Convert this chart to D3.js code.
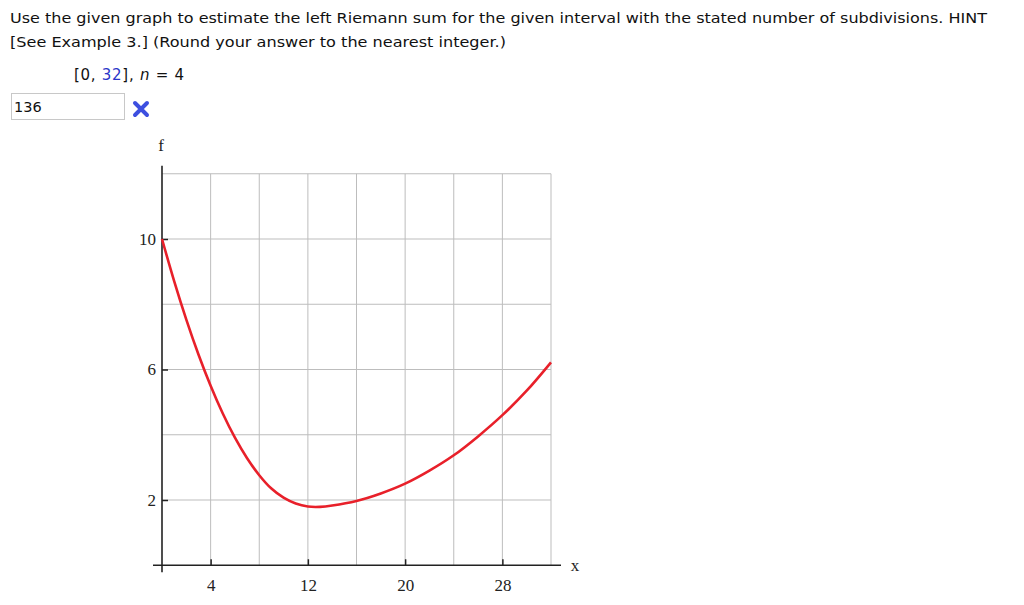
<!DOCTYPE html>
<html><head><meta charset="utf-8">
<script src="https://cdn.jsdelivr.net/npm/d3@7"></script>
<style>
body{margin:0;background:#fff;}
svg{display:block;}
</style></head>
<body>
<svg id="c" width="1024" height="605"></svg>
<script>
// Data
const xs = [0, 1, 2, 3, 4, 5, 6, 7, 8, 9, 10, 11, 12, 13, 14, 16, 18, 20, 22, 24, 26, 28, 30, 32];
const fs = [10, 8.71, 7.53, 6.46, 5.5, 4.65, 3.91, 3.28, 2.76, 2.35, 2.07, 1.89, 1.8, 1.79, 1.83, 1.97, 2.2, 2.5, 2.9, 3.37, 3.95, 4.6, 5.35, 6.22];
const xTickLabels = [4, 12, 20, 28];
const yTickLabels = [2, 6, 10];
const xGrid = [4, 8, 12, 16, 20, 24, 28, 32];
const yGrid = [2, 4, 6, 8, 10, 12];
const promptLines = [
  "Use the given graph to estimate the left Riemann sum for the given interval with the stated number of subdivisions. HINT",
  "[See Example 3.] (Round your answer to the nearest integer.)"
];
const answer = "136";

const svg = d3.select("#c");
const sans = "'DejaVu Sans', Verdana, sans-serif";
const serif = "'Liberation Serif', 'Times New Roman', serif";

// Prompt text
svg.append("text").attr("x", 10).attr("y", 23).attr("font-family", sans).attr("font-size", 14.6)
  .attr("fill", "#111").attr("textLength", 977).attr("lengthAdjust", "spacingAndGlyphs").text(promptLines[0]);
svg.append("text").attr("x", 10).attr("y", 47).attr("font-family", sans).attr("font-size", 14.6)
  .attr("fill", "#111").attr("textLength", 496).attr("lengthAdjust", "spacingAndGlyphs").text(promptLines[1]);

const t3 = svg.append("text").attr("x", 74).attr("y", 80).attr("font-family", sans).attr("font-size", 15)
  .attr("fill", "#111").attr("textLength", 110).attr("lengthAdjust", "spacing");
t3.append("tspan").text("[0, ");
t3.append("tspan").attr("fill", "#2a35c8").text("32");
t3.append("tspan").text("], ");
t3.append("tspan").attr("font-style", "italic").text("n");
t3.append("tspan").text(" = 4");

// Answer box
svg.append("rect").attr("x", 11.5).attr("y", 93.5).attr("width", 113).attr("height", 26)
  .attr("fill", "#fff").attr("stroke", "#c8c8c8");
svg.append("text").attr("x", 14).attr("y", 112).attr("font-family", sans).attr("font-size", 14.5)
  .attr("fill", "#111").text(answer);
// Blue X mark
const xm = svg.append("g").attr("transform", "translate(141,109)");
xm.append("path").attr("d", "M-6,-6L6,6M6,-6L-6,6").attr("stroke", "#3d4fe0").attr("stroke-width", 4).attr("stroke-linecap", "round");

// Chart
const x = d3.scaleLinear().domain([0, 32]).range([162, 551]);
const y = d3.scaleLinear().domain([0, 12]).range([565.25, 173.75]);

const g = svg.append("g");
// grid
g.append("g").selectAll("line").data(xGrid).join("line")
  .attr("x1", d => x(d)).attr("x2", d => x(d)).attr("y1", y(0)).attr("y2", y(12))
  .attr("stroke", "#bdbdbd").attr("stroke-width", 1);
g.append("g").selectAll("line").data(yGrid).join("line")
  .attr("x1", x(0)).attr("x2", x(32)).attr("y1", d => y(d)).attr("y2", d => y(d))
  .attr("stroke", "#bdbdbd").attr("stroke-width", 1);

// axes (ticks via d3 axis)
const xAxis = d3.axisBottom(x).tickValues(xTickLabels).tickSizeInner(-6).tickSizeOuter(0).tickPadding(14);
const gx = g.append("g").attr("transform", `translate(0,${y(0)})`).call(xAxis);
gx.select(".domain").remove();
gx.selectAll(".tick line").attr("stroke", "#222").attr("stroke-width", 1.5);
gx.selectAll(".tick text").attr("font-family", serif).attr("font-size", 17).attr("fill", "#222");

const yAxis = d3.axisLeft(y).tickValues(yTickLabels).tickSizeInner(-6).tickSizeOuter(0).tickPadding(6);
const gy = g.append("g").attr("transform", `translate(${x(0)},0)`).call(yAxis);
gy.select(".domain").remove();
gy.selectAll(".tick line").attr("stroke", "#222").attr("stroke-width", 1.5);
gy.selectAll(".tick text").attr("font-family", serif).attr("font-size", 17).attr("fill", "#222");

// axis lines
g.append("line").attr("x1", x(0) - 9).attr("x2", x(32) + 10).attr("y1", y(0)).attr("y2", y(0))
  .attr("stroke", "#222").attr("stroke-width", 1.6);
g.append("line").attr("x1", x(0)).attr("x2", x(0)).attr("y1", y(0) + 7).attr("y2", y(12) - 8)
  .attr("stroke", "#222").attr("stroke-width", 1.6);

// axis titles
g.append("text").attr("x", x(0) - 1).attr("y", 151).attr("text-anchor", "middle")
  .attr("font-family", serif).attr("font-size", 17).attr("fill", "#222").text("f");
g.append("text").attr("x", 575).attr("y", 571).attr("text-anchor", "middle")
  .attr("font-family", serif).attr("font-size", 17).attr("fill", "#222").text("x");

// curve
const line = d3.line().x((d, i) => x(xs[i])).y(d => y(d)).curve(d3.curveCatmullRom.alpha(0.5));
g.append("path").attr("d", line(fs)).attr("fill", "none").attr("stroke", "#e8202a").attr("stroke-width", 2.6);
</script>
</body></html>
